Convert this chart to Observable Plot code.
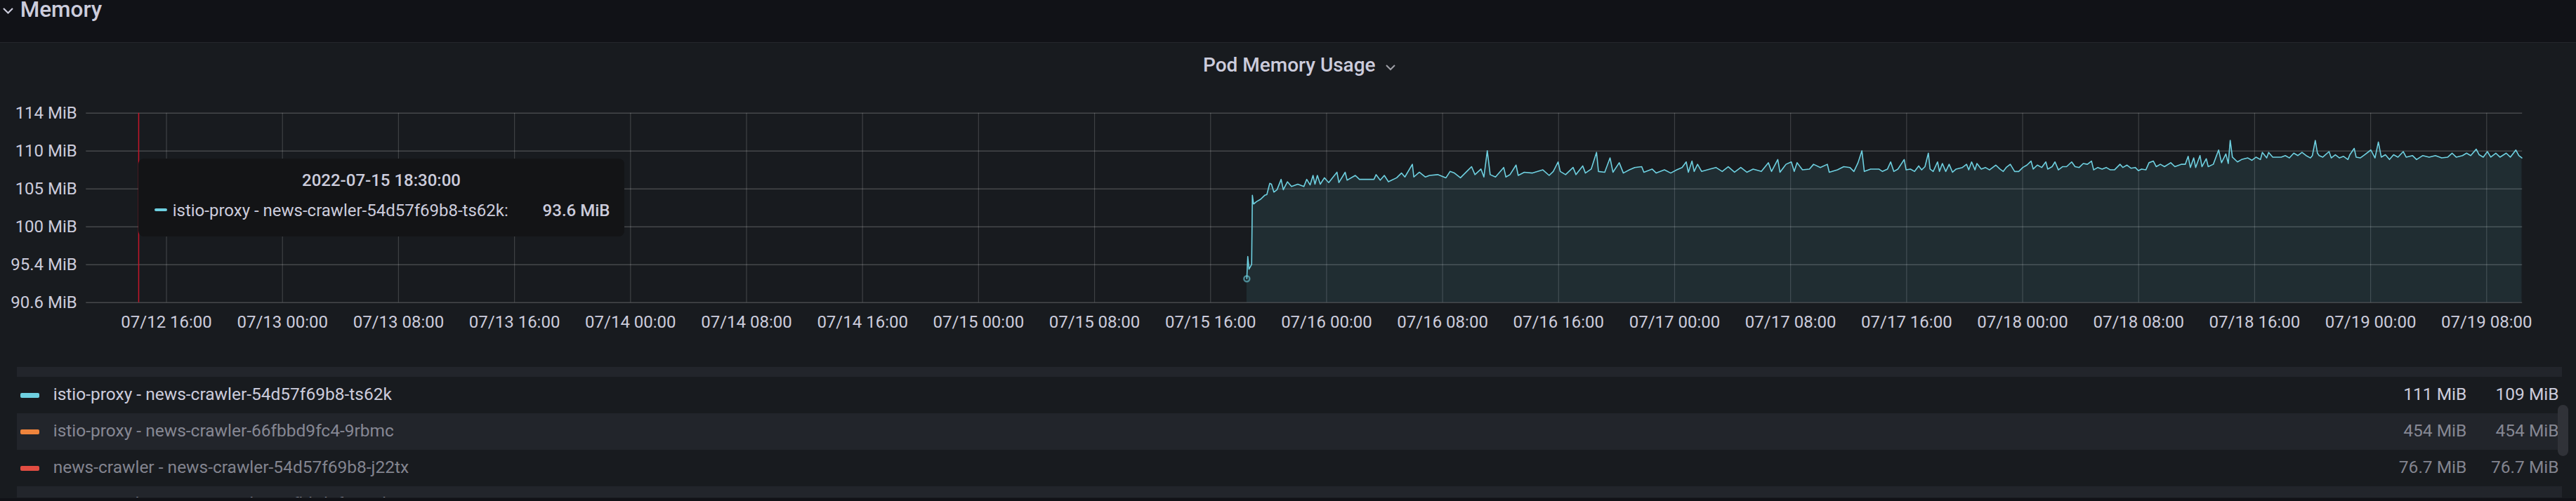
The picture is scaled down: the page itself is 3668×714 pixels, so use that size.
<!DOCTYPE html>
<html><head><meta charset="utf-8">
<script src="https://cdn.jsdelivr.net/npm/d3@7"></script>
<script src="https://cdn.jsdelivr.net/npm/@observablehq/plot@0.6"></script>
<style>
html,body{margin:0;padding:0;background:#111217;width:3668px;height:714px;overflow:hidden;font-family:Roboto,"Noto Sans",sans-serif;color:#ccccdc;}
.abs{position:absolute;white-space:nowrap;}
#panel{position:absolute;left:0;top:60px;width:3668px;height:650px;background:#181b1f;border-top:1px solid #25272c;box-sizing:border-box;}
#chart{position:absolute;left:0;top:130px;}
#tooltip{position:absolute;left:197px;top:226px;width:692px;height:111px;background:#131416;border-radius:8px;}
#legend{position:absolute;left:24px;top:522.7px;width:3624px;height:186.6px;overflow:hidden;}
</style>
</head><body>
<div id="panel"></div>
<div id="chart"></div>
<div id="tooltip"></div>
<div id="legend"></div>
<script>
// ---------------- data ----------------
const memTimes = [
"07-15 18:30","07-15 18:34","07-15 18:39","07-15 18:50","07-15 18:53","07-15 18:58","07-15 19:10","07-15 19:27","07-15 19:44","07-15 19:53",
"07-15 20:05","07-15 20:12","07-15 20:22","07-15 20:35","07-15 20:52","07-15 21:01","07-15 21:18","07-15 21:35","07-15 22:01","07-15 22:26",
"07-15 22:38","07-15 22:52","07-15 23:04","07-15 23:12","07-15 23:22","07-15 23:34","07-15 23:51",
"07-16 00:09","07-16 00:43","07-16 00:51","07-16 01:17","07-16 01:25","07-16 01:59","07-16 02:16","07-16 03:16","07-16 03:25","07-16 03:42",
"07-16 03:59","07-16 04:16","07-16 04:50","07-16 05:10","07-16 05:24","07-16 05:55","07-16 06:01","07-16 06:24","07-16 06:49","07-16 07:06",
"07-16 07:40","07-16 08:14","07-16 08:31","07-16 08:49","07-16 09:14","07-16 09:40","07-16 10:00","07-16 10:14","07-16 10:39","07-16 10:51",
"07-16 11:05","07-16 11:17","07-16 11:39","07-16 11:56","07-16 12:13","07-16 12:22","07-16 12:39","07-16 13:04","07-16 13:13","07-16 13:38",
"07-16 14:12","07-16 14:55","07-16 15:21","07-16 15:38","07-16 15:58","07-16 16:07","07-16 16:29","07-16 17:00","07-16 17:12","07-16 17:40",
"07-16 17:51","07-16 18:15","07-16 18:37","07-16 18:45","07-16 19:11","07-16 19:33","07-16 19:45","07-16 20:11","07-16 20:28","07-16 20:53",
"07-16 21:15","07-16 21:44","07-16 21:53","07-16 22:27","07-16 22:44","07-16 23:18","07-16 23:44",
"07-17 00:09","07-17 00:31","07-17 00:48","07-17 00:57","07-17 01:12","07-17 01:21","07-17 01:35","07-17 01:52","07-17 02:26","07-17 02:51",
"07-17 03:17","07-17 03:42","07-17 04:08","07-17 04:34","07-17 04:59","07-17 05:25","07-17 05:59","07-17 06:28","07-17 06:41","07-17 07:07",
"07-17 07:16","07-17 07:41","07-17 08:03","07-17 08:15","07-17 08:27","07-17 08:49","07-17 09:18","07-17 09:35","07-17 10:03","07-17 10:32",
"07-17 10:40","07-17 11:14","07-17 11:40","07-17 12:05","07-17 12:22","07-17 12:39","07-17 12:55","07-17 13:05","07-17 13:31","07-17 14:05",
"07-17 14:20","07-17 14:41","07-17 14:54","07-17 15:07","07-17 15:24","07-17 15:50","07-17 15:58","07-17 16:16","07-17 16:33","07-17 16:50",
"07-17 17:02","07-17 17:16","07-17 17:30","07-17 17:37","07-17 17:50","07-17 18:08","07-17 18:16","07-17 18:28","07-17 18:42","07-17 18:56",
"07-17 19:10","07-17 19:25","07-17 19:51","07-17 20:08","07-17 20:17","07-17 20:29","07-17 20:43","07-17 20:51","07-17 21:09","07-17 21:26",
"07-17 21:43","07-17 22:09","07-17 22:26","07-17 22:40","07-17 22:52","07-17 23:09","07-17 23:27","07-17 23:44",
"07-18 00:01","07-18 00:18","07-18 00:35","07-18 00:44","07-18 01:01","07-18 01:19","07-18 01:36","07-18 01:44","07-18 02:02","07-18 02:14",
"07-18 02:28","07-18 02:45","07-18 03:02","07-18 03:23","07-18 03:37","07-18 03:54","07-18 04:11","07-18 04:28","07-18 04:45","07-18 04:54",
"07-18 05:11","07-18 05:29","07-18 05:46","07-18 06:03","07-18 06:20","07-18 06:43","07-18 06:55","07-18 07:12","07-18 07:29","07-18 07:46",
"07-18 07:59","07-18 08:12","07-18 08:30","07-18 08:43","07-18 09:01","07-18 09:13","07-18 09:30","07-18 09:47","07-18 10:13","07-18 10:30",
"07-18 10:56","07-18 11:13","07-18 11:25","07-18 11:34","07-18 11:48","07-18 11:56","07-18 12:14","07-18 12:22","07-18 12:40","07-18 12:48",
"07-18 13:09","07-18 13:31","07-18 13:43","07-18 14:01","07-18 14:11","07-18 14:19","07-18 14:28","07-18 14:49","07-18 15:06","07-18 15:32",
"07-18 15:49","07-18 16:06","07-18 16:24","07-18 16:32","07-18 16:50","07-18 16:58","07-18 17:15","07-18 17:33","07-18 17:50","07-18 18:07",
"07-18 18:24","07-18 18:42","07-18 18:59","07-18 19:16","07-18 19:33","07-18 19:51","07-18 19:59","07-18 20:11","07-18 20:20","07-18 20:27",
"07-18 20:42","07-18 21:08","07-18 21:17","07-18 21:34","07-18 21:51","07-18 22:08","07-18 22:26","07-18 22:34","07-18 22:52","07-18 23:00",
"07-18 23:17","07-18 23:35",
"07-19 00:01","07-19 00:18","07-19 00:32","07-19 00:44","07-19 01:01","07-19 01:18","07-19 01:35","07-19 01:53","07-19 02:15","07-19 02:27",
"07-19 02:53","07-19 03:10","07-19 03:36","07-19 04:02","07-19 04:28","07-19 04:54","07-19 05:19","07-19 05:37","07-19 05:54","07-19 06:20",
"07-19 06:37","07-19 06:54","07-19 07:17","07-19 07:29","07-19 07:46","07-19 08:03","07-19 08:17","07-19 08:38","07-19 08:55","07-19 09:21",
"07-19 09:38","07-19 10:01","07-19 10:13","07-19 10:26"
];
const memValues = [
93.6,96.4,94.8,95.4,104.1,103.0,103.3,103.6,104.1,104.2,
105.6,105.5,104.5,104.8,106.1,104.8,105.8,105.2,105.5,105.2,
106.1,105.4,106.6,105.5,106.6,105.5,106.3,
105.7,107.0,105.7,107.0,106.0,106.6,106.1,106.1,106.7,106.0,
106.6,105.8,106.3,106.9,106.4,108.0,106.4,107.0,106.4,106.6,
106.7,106.3,107.1,106.9,106.3,107.1,107.7,106.7,107.4,106.4,
109.7,106.7,106.4,107.0,107.6,106.4,106.7,107.9,106.6,107.0,
106.9,107.3,106.6,107.1,108.3,107.1,106.7,107.6,106.7,107.8,
106.9,107.4,109.5,107.1,107.0,108.8,107.0,108.2,106.9,107.3,
107.6,107.7,107.0,107.4,106.9,107.3,106.9,
107.3,107.6,108.3,107.0,108.4,107.1,108.0,107.1,107.4,107.6,
107.1,107.7,107.0,107.6,107.0,107.4,107.1,108.2,107.1,108.6,
107.0,108.0,108.3,107.1,108.2,107.3,107.4,108.0,107.6,108.0,
107.0,107.3,107.7,107.6,107.1,108.2,109.7,107.1,107.4,107.4,
107.1,107.4,108.3,107.1,107.4,108.6,107.3,107.4,107.1,107.8,
107.3,107.7,109.4,107.4,107.1,108.3,107.1,108.1,107.1,108.0,
107.0,107.4,107.6,108.0,107.3,108.3,107.3,108.1,107.4,107.6,
107.3,107.9,107.4,107.1,107.6,108.0,107.1,107.1,
107.6,107.9,108.4,107.4,107.9,107.6,108.3,107.4,107.7,108.3,
107.3,107.7,107.7,108.3,107.7,107.6,108.1,108.0,108.4,107.3,
107.6,107.4,107.6,107.3,107.3,108.0,107.6,107.9,107.5,107.6,
107.2,107.4,107.3,108.2,108.4,107.7,108.0,107.7,108.2,107.7,
108.0,108.0,109.0,107.6,108.8,107.6,109.1,107.7,108.7,107.7,
108.0,109.8,108.2,109.3,108.1,111.0,108.9,108.3,108.6,108.8,
108.5,108.9,108.6,109.5,108.8,109.5,108.9,108.9,108.9,109.1,
108.8,109.4,109.1,109.5,109.1,108.8,109.1,111.0,109.4,109.1,
108.9,109.6,108.8,109.2,108.8,109.0,108.6,109.2,110.0,108.9,
108.8,109.2,
109.8,108.8,110.8,108.9,109.2,108.6,109.2,108.9,109.6,108.9,
109.1,108.6,109.1,108.9,109.1,108.8,108.9,109.4,108.9,109.1,
109.4,109.1,109.9,109.2,108.9,109.6,108.9,109.4,108.9,109.4,
108.9,109.8,109.1,108.8
];
const timeRange = ["07-12 10:28", "07-19 10:28"];
const xTickTimes = ["07-12 16:00","07-13 00:00","07-13 08:00","07-13 16:00","07-14 00:00","07-14 08:00","07-14 16:00",
  "07-15 00:00","07-15 08:00","07-15 16:00","07-16 00:00","07-16 08:00","07-16 16:00","07-17 00:00","07-17 08:00",
  "07-17 16:00","07-18 00:00","07-18 08:00","07-18 16:00","07-19 00:00","07-19 08:00"];
const yTickBytes = [95e6, 100e6, 105e6, 110e6, 115e6, 120e6];
const yTickLabels = ["90.6 MiB","95.4 MiB","100 MiB","105 MiB","110 MiB","114 MiB"];
const annotationTimes = ["07-12 14:05"];
const hoverTime = "2022-07-15 18:30:00";
const hoverValue = "93.6 MiB";

const seriesNames = ["istio-proxy - news-crawler-54d57f69b8-ts62k","istio-proxy - news-crawler-66fbbd9fc4-9rbmc",
  "news-crawler - news-crawler-54d57f69b8-j22tx","news-crawler - news-crawler-66fbbd9fc4-9rbmc"];
const seriesColors = ["#6ED0E0","#EF843C","#E24D42","#1F78C1"];
const seriesMax = ["111 MiB","454 MiB","76.7 MiB","378 MiB"];
const seriesCurrent = ["109 MiB","454 MiB","76.7 MiB","364 MiB"];
const seriesVisible = [true,false,false,false];

// ---------------- helpers ----------------
const parse = d3.timeParse("%Y-%m-%d %H:%M");
const P = s => parse("2022-" + s);
const MiB = 1048576;
const data = memTimes.map((t, i) => ({t: P(t), v: memValues[i]}));
const yTicks = yTickBytes.map(b => b / MiB);
const xTicks = xTickTimes.map(P);
const yMin = yTicks[0];

function txt(parent, s, x, base, o = {}) {
  const fs = o.size || 24;
  const el = document.createElement("div");
  el.className = "abs";
  el.textContent = s;
  el.style.fontSize = fs + "px";
  el.style.lineHeight = fs + "px";
  el.style.top = (base - 0.842 * fs) + "px";
  el.style.fontWeight = o.weight || 400;
  el.style.color = o.color || "#ccccdc";
  if (o.anchor === "end") { el.style.right = x + "px"; }
  else if (o.anchor === "middle") { el.style.left = x + "px"; el.style.transform = "translateX(-50%)"; }
  else el.style.left = x + "px";
  parent.appendChild(el);
  return el;
}
function box(parent, x, y, w, h, color, r = 0) {
  const el = document.createElement("div");
  el.className = "abs";
  Object.assign(el.style, {left: x + "px", top: y + "px", width: w + "px", height: h + "px", background: color, borderRadius: r + "px"});
  parent.appendChild(el);
  return el;
}
function chevron(x, y, w, h, color, sw) {
  const ns = "http://www.w3.org/2000/svg";
  const s = document.createElementNS(ns, "svg");
  s.setAttribute("width", w + 4); s.setAttribute("height", h + 4);
  s.style.position = "absolute"; s.style.left = (x - 2) + "px"; s.style.top = (y - 2) + "px";
  const p = document.createElementNS(ns, "polyline");
  p.setAttribute("points", `2,2 ${2 + w / 2},${2 + h} ${2 + w},2`);
  p.setAttribute("fill", "none"); p.setAttribute("stroke", color); p.setAttribute("stroke-width", sw);
  s.appendChild(p);
  document.body.appendChild(s);
}

// ---------------- headers ----------------
chevron(5, 12, 13, 6.5, "#ccccdc", 2.2);
txt(document.body, "Memory", 28.7, 25, {size: 31.5, weight: 500});
txt(document.body, "Pod Memory Usage", 1835.8, 102.7, {size: 28, weight: 500, anchor: "middle"});
chevron(1974, 93, 12, 6, "#9fa0a8", 2);

// ---------------- chart ----------------
const chart = Plot.plot({
  width: 3668, height: 350,
  marginLeft: 122.3, marginRight: 76.8, marginTop: 30.7, marginBottom: 49.3,
  style: {background: "transparent", color: "#ccccdc", fontFamily: "Roboto, sans-serif", fontSize: "24px"},
  x: {type: "time", domain: timeRange.map(P), ticks: xTicks, tickFormat: d3.timeFormat("%m/%d %H:%M"), tickSize: 0, tickPadding: 19, label: null},
  y: {domain: [yTicks[0], yTicks[yTicks.length - 1]], ticks: yTicks, tickFormat: d => yTickLabels[yTicks.indexOf(d)], tickSize: 0, tickPadding: 13, label: null},
  marks: [
    Plot.ruleY(yTicks, {stroke: "#ffffff", strokeOpacity: 0.2, strokeWidth: 1.5}),
    Plot.ruleX(xTicks, {stroke: "#ffffff", strokeOpacity: 0.17, strokeWidth: 1.2}),
    Plot.areaY(data, {x: "t", y1: () => yMin, y2: "v", fill: seriesColors[0], fillOpacity: 0.1}),
    Plot.ruleX(annotationTimes.map(P), {stroke: "#c4162a", strokeWidth: 1.5}),
    Plot.lineY(data, {x: "t", y: "v", stroke: seriesColors[0], strokeWidth: 1.6}),
    Plot.dot([data[0]], {x: "t", y: "v", r: 4, stroke: seriesColors[0], strokeOpacity: 0.6, strokeWidth: 2.4, fill: "none"})
  ]
});
document.getElementById("chart").appendChild(chart);

// ---------------- tooltip ----------------
const tip = document.getElementById("tooltip");
txt(tip, hoverTime, 346, 39, {anchor: "middle", weight: 500});
box(tip, 23, 70.5, 18, 4.5, seriesColors[0], 2);
txt(tip, seriesNames[0] + ":", 48.7, 82, {});
txt(tip, hoverValue, 20.6, 82, {anchor: "end", weight: 500});

// ---------------- legend ----------------
const legend = document.getElementById("legend");
const rowTop0 = 536.7 - 522.7;
box(legend, 0, rowTop0 - 52, 3624, 52, "#22252b");
seriesNames.forEach((name, i) => {
  const top = rowTop0 + i * 52;
  const row = box(legend, 0, top, 3624, 52, i % 2 === 1 ? "#22252b" : "transparent");
  const col = seriesVisible[i] ? "#ccccdc" : "rgba(204,204,220,0.6)";
  box(row, 4.6, 23.8, 27, 7, seriesColors[i], 2);
  txt(row, name, 51.7, 34.3, {color: col, size: 24.5});
  txt(row, seriesMax[i], 3624 - 3512.3 + 24, 34.3, {anchor: "end", color: col, size: 24.5});
  txt(row, seriesCurrent[i], 3624 - 3643.5 + 24, 34.3, {anchor: "end", color: col, size: 24.5});
});
box(document.body, 3642.4, 576.7, 14.8, 73.3, "#303238", 7.4);
</script>
</body></html>
